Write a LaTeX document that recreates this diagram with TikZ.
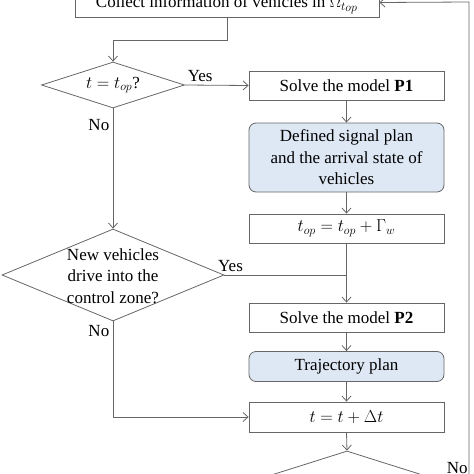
\documentclass[tikz,border=0pt]{standalone}
\usepackage{amsmath}
\usepackage{fontspec}
\setmainfont{Liberation Serif}
\usetikzlibrary{shapes.geometric,arrows.meta}

\begin{document}
\begin{tikzpicture}[x=1pt,y=-1pt,line width=0.8pt,
        font=\fontsize{17}{21.5}\selectfont,
        box/.style={draw=black!60,rectangle,minimum width=195pt,minimum height=29pt,inner sep=0pt,align=center},
        plan/.style={box,fill={rgb,255:red,222;green,232;blue,244},rounded corners=7pt},
        decide/.style={draw=black!60,diamond,inner sep=0pt},
        arr/.style={draw=black!60,-{Straight Barb[length=5pt,width=9pt]}}]
    \useasboundingbox (0,0) rectangle (474,474);
    \clip (0,0) rectangle (474,474);

    \node[box,minimum width=304pt,text height=12pt,text depth=2pt] (collect) at (227,2.5) {Collect information of vehicles in $\Omega_{t_{\scriptstyle op}}$};
    \node[box] (solve1) at (346.5,85.5) {Solve the model \textbf{P1}};
    \node[plan,minimum height=69pt] (signal) at (346.5,157.5) {Defined signal plan\\and the arrival state of\\vehicles};
    \node[box] (topupd) at (346.5,228.5) {$t_{op}=t_{op}+\Gamma_w$};
    \node[box] (solve2) at (346.5,317.5) {Solve the model \textbf{P2}};
    \node[plan,minimum height=30pt] (traj) at (346.5,366.5) {Trajectory plan};
    \node[box,minimum height=30pt] (tupd) at (346.5,417) {$t=t+\Delta t$};

    % decisions
    \node[decide,minimum width=143pt,minimum height=46pt] (check1) at (113,85) {};
    \node (check1txt) at (check1) {$t=t_{op}$?};
    \node[decide,minimum width=222pt,minimum height=92pt] (check2) at (113,275) {};
    \node[align=center,inner sep=0pt] (check2txt) at (113,276) {New vehicles\\drive into the\\control zone?};
    \node[decide,minimum width=196pt,minimum height=62pt] (check3) at (347,482) {};
    \coordinate (back) at (469,2);

    % connectors
    \draw[arr] (collect.south) -- ++(0,23) -| (check1.north);
    \draw[arr] (check1.east) -- node[above,pos=0.24] {Yes} (solve1.west);
    \draw[arr] (solve1.south) -- (signal.north);
    \draw[arr] (signal.south) -- (topupd.north);
    \draw[arr] (topupd.south) -- (solve2.north);
    \draw[draw=black!60] (check2.east) -- node[above,pos=0.05] {Yes} (check2.east -| topupd.south);
    \draw[arr] (check1.south) -- node[left,pos=0.14] {No} (check2.north);
    \draw[arr] (solve2.south) -- (traj.north);
    \draw[arr] (traj.south) -- (tupd.north);
    \draw[arr] (check2.south) |- node[left,pos=0.05] {No} (tupd.west);
    \draw[arr] (tupd.south) -- (check3.north);
    \draw[arr] (check3.east) -| node[above=5pt,pos=0.25] {No} (back) -- (collect.east);
\end{tikzpicture}
\end{document}
